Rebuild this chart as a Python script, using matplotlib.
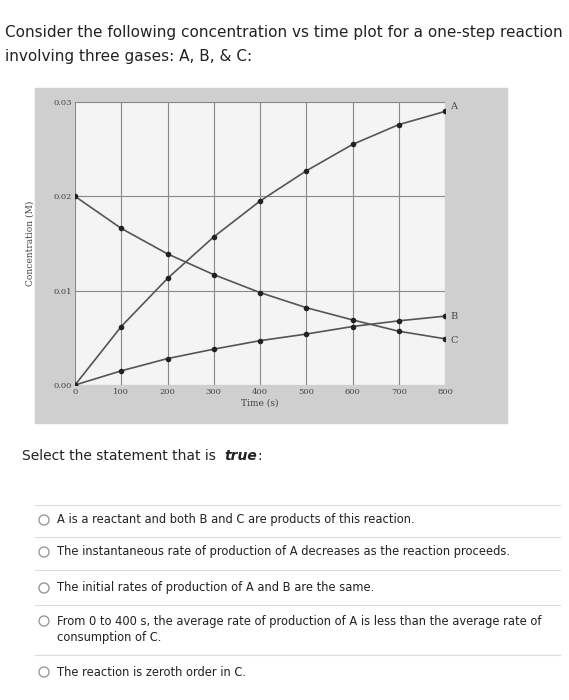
import matplotlib
matplotlib.use("Agg")
import matplotlib.pyplot as plt
from matplotlib.patches import Rectangle, Circle

time = [0, 100, 200, 300, 400, 500, 600, 700, 800]
conc_A = [0, 0.0062, 0.0113, 0.0157, 0.0195, 0.0227, 0.0255, 0.0276, 0.0290]
conc_B = [0, 0.0015, 0.0028, 0.0038, 0.0047, 0.0054, 0.0062, 0.0068, 0.0073]
conc_C = [0.0200, 0.0166, 0.0139, 0.0117, 0.0098, 0.0082, 0.0069, 0.0057, 0.0049]
xticks = [0, 100, 200, 300, 400, 500, 600, 700, 800]
yticks = [0.00, 0.01, 0.02, 0.03]
yticklabels = ["0.00", "0.01", "0.02", "0.03"]

W, H = 569, 700
fig = plt.figure(figsize=(W/100, H/100), dpi=100)
fig.patch.set_facecolor("white")
ov = fig.add_axes([0, 0, 1, 1]); ov.set_xlim(0, W); ov.set_ylim(H, 0); ov.axis("off")

ov.text(5, 32, "Consider the following concentration vs time plot for a one-step reaction", fontsize=11, va="center", color="#222")
ov.text(5, 56, "involving three gases: A, B, & C:", fontsize=11, va="center", color="#222")
ov.add_patch(Rectangle((35, 88), 472, 335, color="#cfcfcf", zorder=0))

ax = fig.add_axes([75/W, 1-385/H, (445-75)/W, (385-102)/H])
ax.set_facecolor("#f4f4f4")
for series in (conc_A, conc_B, conc_C):
    ax.plot(time, series, color="#555", lw=1.2, marker="o", ms=3, mfc="#222", mec="#222")
ax.text(812, conc_A[-1]+0.0003, "A", fontsize=7, family="serif", color="#444")
ax.text(812, conc_B[-1], "B", fontsize=7, family="serif", color="#444", va="center")
ax.text(812, conc_C[-1]-0.0002, "C", fontsize=7, family="serif", color="#444", va="center")
ax.set_xlim(0, 800); ax.set_ylim(0, 0.03)
ax.set_xticks(xticks); ax.set_yticks(yticks)
ax.set_xticklabels([str(v) for v in xticks], fontsize=6, family="serif", color="#444")
ax.set_yticklabels(yticklabels, fontsize=6, family="serif", color="#444")
ax.grid(True, color="#888", lw=0.8)
ax.tick_params(length=0, pad=2)
for s in ax.spines.values(): s.set_visible(False)
ax.set_xlabel("Time (s)", fontsize=6.5, family="serif", color="#444", labelpad=2)
ax.set_ylabel("Concentration (M)", fontsize=6.5, family="serif", color="#444", labelpad=14)

fig.canvas.draw()
r = fig.canvas.get_renderer()
x = 22
for s, kw in [("Select the statement that is ", {}), ("true", {"style": "italic", "weight": "bold"}), (":", {})]:
    t = ov.text(x, 456, s, fontsize=10, va="center", color="#222", **kw)
    bb = t.get_window_extent(r)
    x += bb.width + (4 if s.endswith(" ") else 0)

opts = [(520, ["A is a reactant and both B and C are products of this reaction."]),
        (552, ["The instantaneous rate of production of A decreases as the reaction proceeds."]),
        (588, ["The initial rates of production of A and B are the same."]),
        (621, ["From 0 to 400 s, the average rate of production of A is less than the average rate of",
               "consumption of C."]),
        (672, ["The reaction is zeroth order in C."])]
for y, lines in opts:
    ov.add_patch(Circle((44, y), 5, fill=False, ec="#999", lw=1))
    for j, l in enumerate(lines):
        ov.text(57, y + j*17, l, fontsize=8.3, va="center", color="#222")
for y in [505, 537, 570, 605, 655]:
    ov.plot([35, 560], [y, y], color="#ddd", lw=0.8)

fig.savefig("out.png", dpi=100)
